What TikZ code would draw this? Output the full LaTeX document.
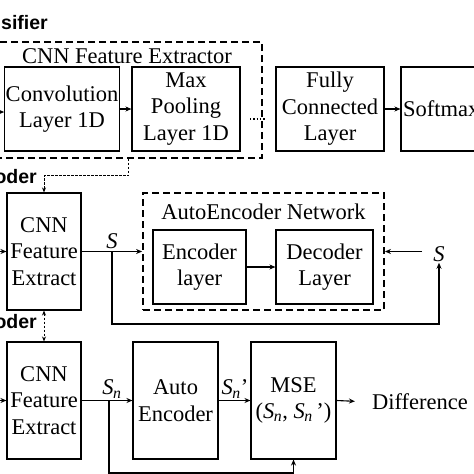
\documentclass[tikz,border=0pt]{standalone}
\usepackage{fontspec}
\setmainfont{Liberation Serif}
\newfontfamily\headfont{Liberation Sans}
\usetikzlibrary{arrows.meta,calc}
\newcommand{\Svar}{\textit{S}}
\newcommand{\Snvar}{\textit{S}\kern-0.5pt\textsubscript{\textit{n}}}
\tikzset{
  txt/.style={font=\fontsize{22.5}{26.5}\selectfont, align=center, inner sep=1pt},
  box/.style={draw=black, line width=1.1pt, inner sep=0pt, txt},
  dbox/.style={draw=black, line width=1.8pt, dash pattern=on 7pt off 4pt, inner sep=0pt},
  arr/.style={line width=1.1pt, -{Stealth[length=6pt,width=5pt]}},
  dconn/.style={line width=1pt, dash pattern=on 2.5pt off 1.5pt},
  head/.style={font=\headfont\bfseries\fontsize{19.5}{22}\selectfont, inner sep=0pt}
}
\begin{document}
\begin{tikzpicture}[x=1pt,y=-1pt]
\useasboundingbox (0,0) rectangle (474,474);
\clip (0,0) rectangle (474,474);
\fill[white] (0,0) rectangle (474,474);

% headings (clipped)
\node[head, anchor=base east] (h1) at (48,29) {sifier};
\node[head, anchor=base east] (h2) at (37,183) {oder};
\node[head, anchor=base east] (h3) at (37,328) {oder};

% ---------- top row ----------
\node[dbox, minimum width=267pt, minimum height=116pt] (fe) at (128.5,100) {};
\node[txt] (fet) at (127,56) {CNN Feature Extractor};
\node[box, minimum width=110pt, minimum height=84pt] (conv) at (62,109) {Convolution\\Layer 1D};
\node[box, minimum width=108pt, minimum height=84pt] (maxp) at (186,109) {Max\\Pooling\\Layer 1D};
\node[box, minimum width=108pt, minimum height=84pt] (fc) at (330,109) {Fully\\Connected\\Layer};
\node[box, minimum width=79pt, minimum height=84pt] (soft) at (440.5,109) {};
\node[txt, anchor=west] (softt) at ($(soft.west)+(1.5,0)$) {Softmax};

\coordinate (inT) at (0,112);
\draw[arr] (inT) -- (inT -| conv.west);
\draw[arr] (conv.east) -- (maxp.west);
\draw[arr] (fc.east) -- (soft.west);
\coordinate (dA) at (250,119);
\coordinate (dB) at (266,119);
\draw[line width=1.2pt, dash pattern=on 1.3pt off 2pt] (dA) -- (dB);

% ---------- middle row ----------
\node[box, minimum width=74pt, minimum height=117pt] (cnnA) at (44,251.5) {CNN\\Feature\\Extract};
\node[dbox, minimum width=241pt, minimum height=117pt] (ae) at (263.5,251.5) {};
\node[txt] (aet) at (263.5,212) {AutoEncoder Network};
\node[box, minimum width=93pt, minimum height=74pt] (enc) at (199.5,267) {Encoder\\layer};
\node[box, minimum width=97pt, minimum height=74pt] (dec) at (324.5,267) {Decoder\\Layer};
\node[txt] (sR) at (439,254) {\Svar};
\node[txt] (sL) at (112,241) {\Svar};

\coordinate (inM) at (0,251.5);
\draw[arr] (inM) -- (cnnA.west);
\draw[dconn, -{Stealth[length=5pt,width=4pt]}] (fe.south) -- ++(0,17) -| (cnnA.north);
\draw[arr] (cnnA.east) -- (ae.west);
\draw[arr] (enc.east) -- (dec.west);
\draw[arr, shorten <=10pt] (sR.west |- ae.east) -- (ae.east);
\coordinate (brA) at (112,251.5);
\coordinate (lowA) at (112,324);
\draw[arr] (brA) -- (lowA) -| (sR.south);

% ---------- bottom row ----------
\node[box, minimum width=74pt, minimum height=117pt] (cnnB) at (44,400.5) {CNN\\Feature\\Extract};
\node[box, minimum width=85pt, minimum height=117pt] (aut) at (175.5,400.5) {Auto\\Encoder};
\node[box, minimum width=85pt, minimum height=117pt] (mse) at (293.5,400.5) {MSE\\(\Snvar, \Snvar\,’)};
\node[txt] (diff) at (420,402) {Difference};
\node[txt] (snL) at (112,389) {\Snvar};
\node[txt] (snR) at (235,389) {\Snvar’};

\draw[dconn, {Stealth[length=5pt,width=4pt]}-{Stealth[length=5pt,width=4pt]}] (cnnA.south) -- (cnnB.north);
\coordinate (inB) at (0,400.5);
\draw[arr] (inB) -- (cnnB.west);
\draw[arr] (cnnB.east) -- (aut.west);
\draw[arr] (aut.east) -- (mse.west);
\draw[arr, shorten >=16pt] (mse.east) -- (diff.west);
\coordinate (brB) at (109,400.5);
\coordinate (lowB) at (109,473);
\draw[arr] (brB) -- (lowB) -| (mse.south);
\end{tikzpicture}
\end{document}
